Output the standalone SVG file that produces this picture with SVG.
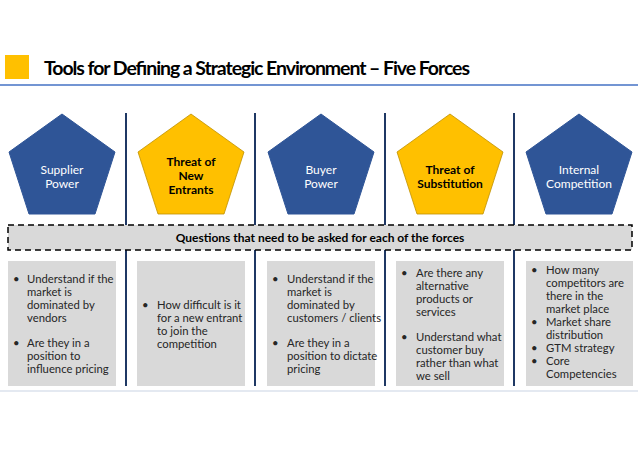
<svg xmlns="http://www.w3.org/2000/svg" width="638" height="451" viewBox="0 0 638 451">
<style>
text{font-family:Lato,"Open Sans","Liberation Sans",sans-serif}
.t{font-size:11.3px;fill:#262626}
.pw{fill:#2F5597;stroke:#2F5597}
.py{fill:#FFC000;stroke:#BF9000;stroke-width:0.8}
.lw{font-size:12px;fill:#fff;text-anchor:middle}
.lb{font-size:12px;fill:#000;font-weight:bold;text-anchor:middle}
.box{fill:#D9D9D9}
.div{stroke:#1F3864;stroke-width:2}
</style>
<defs><polygon id="pent" points="0,0 53,38 33,100 -33,100 -53,38"/></defs>
<rect width="638" height="451" fill="#fff"/>
<rect x="5" y="55" width="24" height="24" fill="#FFC000"/>
<text x="44" y="75" font-size="19.5" font-weight="bold" fill="#000" textLength="426">Tools for Defining a Strategic Environment – Five Forces</text>
<line x1="0" y1="85" x2="638" y2="85" stroke="#4472C4" stroke-width="1.5"/>
<line x1="0" y1="391" x2="638" y2="391" stroke="#C9D3E3" stroke-width="1"/>
<g id="connectors">
<line class="div" x1="126" y1="113" x2="126" y2="386"/>
<line class="div" x1="255" y1="113" x2="255" y2="386"/>
<line class="div" x1="385" y1="113" x2="385" y2="386"/>
<line class="div" x1="514" y1="113" x2="514" y2="386"/>
</g>
<g id="questions">
<rect x="8" y="225" width="624" height="25" fill="#D9D9D9" stroke="#000" stroke-width="1.5" stroke-dasharray="6,4"/>
<text x="320" y="242" font-size="12" font-weight="bold" text-anchor="middle" fill="#000">Questions that need to be asked for each of the forces</text>
</g>
<g id="supplier"><use href="#pent" x="62" y="114" class="pw"/><text class="lw" x="62" y="174">Supplier</text><text class="lw" x="62" y="188">Power</text></g>
<g id="newentrants"><use href="#pent" x="191" y="114" class="py"/><text class="lb" x="191" y="166">Threat of</text><text class="lb" x="191" y="180">New</text><text class="lb" x="191" y="194">Entrants</text></g>
<g id="buyer"><use href="#pent" x="321" y="114" class="pw"/><text class="lw" x="321" y="174">Buyer</text><text class="lw" x="321" y="188">Power</text></g>
<g id="substitution"><use href="#pent" x="450" y="114" class="py"/><text class="lb" x="450" y="174">Threat of</text><text class="lb" x="450" y="188">Substitution</text></g>
<g id="internal"><use href="#pent" x="579" y="114" class="pw"/><text class="lw" x="579" y="174">Internal</text><text class="lw" x="579" y="188">Competition</text></g>
<g id="box1"><rect class="box" x="8" y="261" width="108" height="125"/>
<text class="t"><tspan x="13" y="283">•</tspan><tspan x="27" y="283">Understand if the</tspan><tspan x="27" y="296">market is</tspan><tspan x="27" y="309">dominated by</tspan><tspan x="27" y="322">vendors</tspan><tspan x="13" y="347">•</tspan><tspan x="27" y="347">Are they in a</tspan><tspan x="27" y="360">position to</tspan><tspan x="27" y="373">influence pricing</tspan></text></g>
<g id="box2"><rect class="box" x="137" y="261" width="108" height="125"/>
<text class="t"><tspan x="142" y="309">•</tspan><tspan x="157" y="309">How difficult is it</tspan><tspan x="157" y="322">for a new entrant</tspan><tspan x="157" y="335">to join the</tspan><tspan x="157" y="348">competition</tspan></text></g>
<g id="box3"><rect class="box" x="267" y="261" width="108" height="125"/>
<text class="t"><tspan x="272" y="283">•</tspan><tspan x="287" y="283">Understand if the</tspan><tspan x="287" y="296">market is</tspan><tspan x="287" y="309">dominated by</tspan><tspan x="287" y="322">customers / clients</tspan><tspan x="272" y="347">•</tspan><tspan x="287" y="347">Are they in a</tspan><tspan x="287" y="360">position to dictate</tspan><tspan x="287" y="373">pricing</tspan></text></g>
<g id="box4"><rect class="box" x="396" y="261" width="108" height="125"/>
<text class="t"><tspan x="401" y="277">•</tspan><tspan x="416" y="277">Are there any</tspan><tspan x="416" y="290">alternative</tspan><tspan x="416" y="303">products or</tspan><tspan x="416" y="316">services</tspan><tspan x="401" y="341">•</tspan><tspan x="416" y="341">Understand what</tspan><tspan x="416" y="354">customer buy</tspan><tspan x="416" y="367">rather than what</tspan><tspan x="416" y="380">we sell</tspan></text></g>
<g id="box5"><rect class="box" x="526" y="261" width="107" height="125"/>
<text class="t"><tspan x="531" y="274">•</tspan><tspan x="546" y="274">How many</tspan><tspan x="546" y="287">competitors are</tspan><tspan x="546" y="300">there in the</tspan><tspan x="546" y="313">market place</tspan><tspan x="531" y="326">•</tspan><tspan x="546" y="326">Market share</tspan><tspan x="546" y="339">distribution</tspan><tspan x="531" y="352">•</tspan><tspan x="546" y="352">GTM strategy</tspan><tspan x="531" y="365">•</tspan><tspan x="546" y="365">Core</tspan><tspan x="546" y="378">Competencies</tspan></text></g>
</svg>
